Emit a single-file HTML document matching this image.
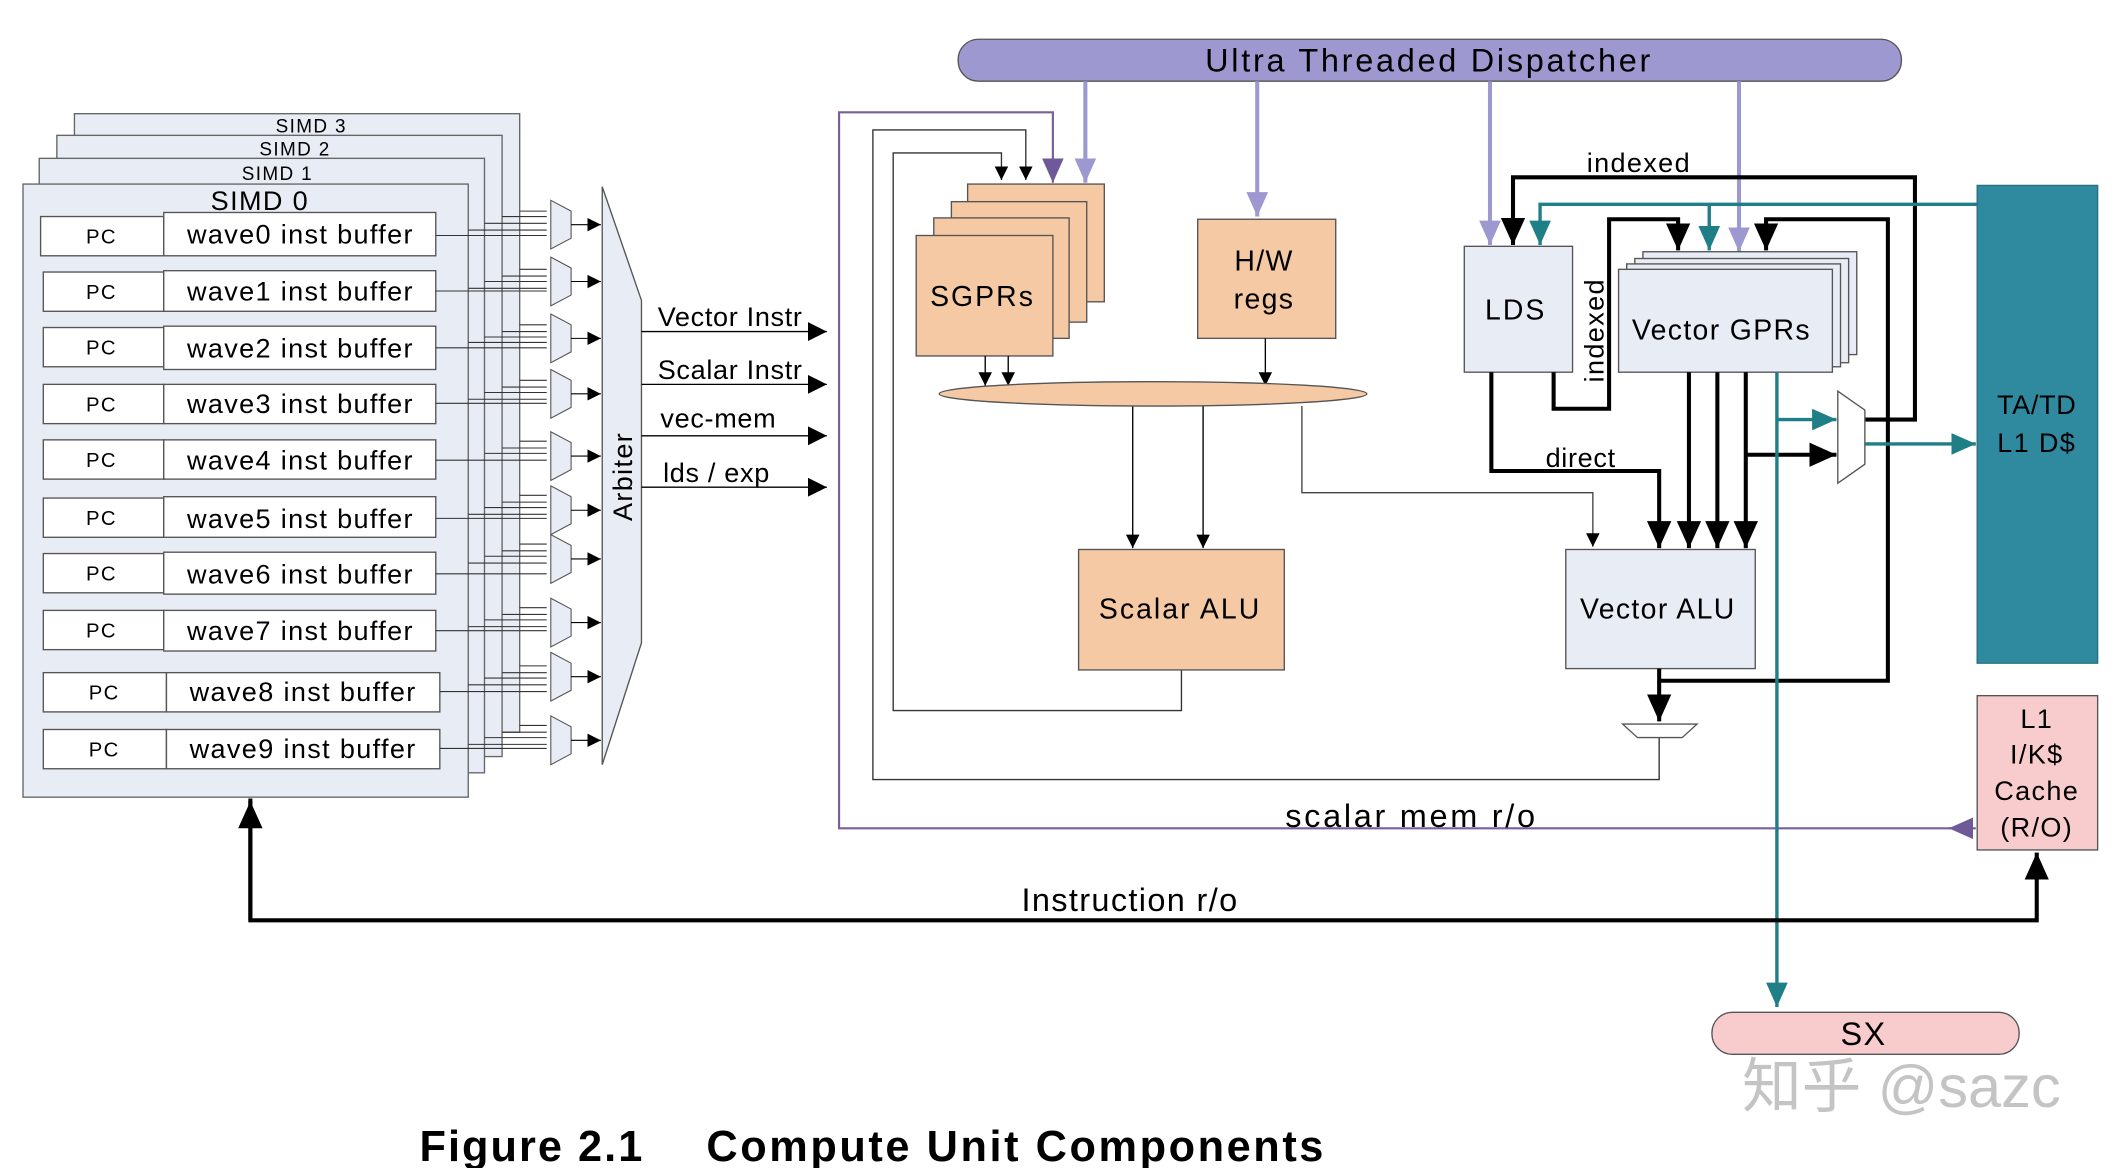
<!DOCTYPE html>
<html><head><meta charset="utf-8"><style>
html,body{margin:0;padding:0;background:#fff;}
svg{display:block;}
text{font-family:"Liberation Sans",sans-serif;fill:#000;}
</style></head><body>
<svg width="2122" height="1168" viewBox="0 0 1568 863" preserveAspectRatio="none" xmlns="http://www.w3.org/2000/svg">
<defs>
<marker id="ab" markerUnits="userSpaceOnUse" markerWidth="16" markerHeight="16" refX="14" refY="7" orient="auto"><path d="M0,0 L14,7 L0,14 Z" fill="#000"/></marker>
<marker id="as" markerUnits="userSpaceOnUse" markerWidth="12" markerHeight="12" refX="10" refY="5" orient="auto"><path d="M0,0 L10,5 L0,10 Z" fill="#000"/></marker>
<marker id="ap" markerUnits="userSpaceOnUse" markerWidth="20" markerHeight="20" refX="18" refY="8" orient="auto"><path d="M0,0 L18,8 L0,16 Z" fill="#9d98d0"/></marker>
<marker id="apd" markerUnits="userSpaceOnUse" markerWidth="20" markerHeight="20" refX="18" refY="8" orient="auto"><path d="M0,0 L18,8 L0,16 Z" fill="#6f5a99"/></marker>
<marker id="at" markerUnits="userSpaceOnUse" markerWidth="20" markerHeight="20" refX="18" refY="8" orient="auto"><path d="M0,0 L18,8 L0,16 Z" fill="#1f7f86"/></marker>
<marker id="aB" markerUnits="userSpaceOnUse" markerWidth="22" markerHeight="22" refX="20" refY="9" orient="auto"><path d="M0,0 L20,9 L0,18 Z" fill="#000"/></marker>
</defs>

<rect x="708" y="29" width="697" height="31" rx="15" fill="#9d98d0" stroke="#555" stroke-width="1"/>
<text x="1056" y="53" font-size="24" text-anchor="middle" letter-spacing="2">Ultra Threaded Dispatcher</text>

<rect x="55" y="84" width="329" height="457" fill="#e8ecf5" stroke="#666"/>
<rect x="42" y="100" width="329" height="459" fill="#e8ecf5" stroke="#666"/>
<rect x="29" y="117" width="329" height="454" fill="#e8ecf5" stroke="#666"/>
<rect x="17" y="136" width="329" height="453" fill="#e8ecf5" stroke="#666"/>
<text x="230" y="98" font-size="14" text-anchor="middle" letter-spacing="1">SIMD 3</text>
<text x="218" y="115" font-size="14" text-anchor="middle" letter-spacing="1">SIMD 2</text>
<text x="205" y="133" font-size="14" text-anchor="middle" letter-spacing="1">SIMD 1</text>
<text x="192" y="155" font-size="20" text-anchor="middle" letter-spacing="1">SIMD 0</text>

<g stroke="#555" stroke-width="1" fill="#fff">
<rect x="30" y="160" width="91" height="29"/><rect x="121" y="157" width="201" height="32"/>
<rect x="32" y="201" width="89" height="29"/><rect x="121" y="200" width="201" height="30"/>
<rect x="32" y="242" width="89" height="29"/><rect x="121" y="241" width="201" height="32"/>
<rect x="32" y="284" width="89" height="29"/><rect x="121" y="284" width="201" height="29"/>
<rect x="32" y="325" width="89" height="29"/><rect x="121" y="325" width="201" height="29"/>
<rect x="32" y="368" width="89" height="29"/><rect x="121" y="367" width="201" height="30"/>
<rect x="32" y="409" width="89" height="29"/><rect x="121" y="408" width="201" height="31"/>
<rect x="32" y="451" width="89" height="29"/><rect x="121" y="451" width="201" height="30"/>
<rect x="32" y="497" width="91" height="29"/><rect x="123" y="497" width="202" height="29"/>
<rect x="32" y="539" width="91" height="29"/><rect x="123" y="539" width="202" height="29"/>
</g>
<g font-size="15" text-anchor="middle" letter-spacing="1">
<text x="75" y="180">PC</text><text x="75" y="221">PC</text><text x="75" y="262">PC</text><text x="75" y="304">PC</text><text x="75" y="345">PC</text><text x="75" y="388">PC</text><text x="75" y="429">PC</text><text x="75" y="471">PC</text><text x="77" y="517">PC</text><text x="77" y="559">PC</text>
</g>
<g font-size="20" text-anchor="middle" letter-spacing="1">
<text x="222" y="180">wave0 inst buffer</text><text x="222" y="222">wave1 inst buffer</text><text x="222" y="264">wave2 inst buffer</text><text x="222" y="305">wave3 inst buffer</text><text x="222" y="347">wave4 inst buffer</text><text x="222" y="390">wave5 inst buffer</text><text x="222" y="431">wave6 inst buffer</text><text x="222" y="473">wave7 inst buffer</text><text x="224" y="518">wave8 inst buffer</text><text x="224" y="560">wave9 inst buffer</text>
</g>

<g stroke="#333" stroke-width="0.8" fill="none">
<path d="M322,174H404 M346,170H404 M358,165H404 M371,160H404 M384,156H404"/>
<path d="M322,215H404 M346,213H404 M358,208H404 M371,204H404 M384,199H404"/>
<path d="M322,257H404 M346,253H404 M358,249H404 M371,245H404 M384,240H404"/>
<path d="M322,298H404 M346,295H404 M358,290H404 M371,286H404 M384,281H404"/>
<path d="M322,340H404 M346,340H404 M358,335H404 M371,331H404 M384,326H404"/>
<path d="M322,383H404 M346,380H404 M358,375H404 M371,371H404 M384,366H404"/>
<path d="M322,424H404 M346,416H404 M358,411H404 M371,407H404 M384,402H404"/>
<path d="M322,466H404 M346,463H404 M358,458H404 M371,454H404 M384,449H404"/>
<path d="M325,511H404 M346,506H404 M358,501H404 M371,497H404 M384,492H404"/>
<path d="M325,553H404 M346,550H404 M358,545H404 M371,541H404 M384,536H404"/>
</g>
<g stroke="#555" stroke-width="0.8" fill="#e8ecf5">
<path d="M407,148 L422,156 L422,176 L407,184 Z"/>
<path d="M407,190 L422,198 L422,218 L407,226 Z"/>
<path d="M407,232 L422,240 L422,260 L407,268 Z"/>
<path d="M407,273 L422,281 L422,301 L407,309 Z"/>
<path d="M407,319 L422,327 L422,347 L407,355 Z"/>
<path d="M407,359 L422,367 L422,387 L407,395 Z"/>
<path d="M407,395 L422,403 L422,423 L407,431 Z"/>
<path d="M407,442 L422,450 L422,470 L407,478 Z"/>
<path d="M407,482 L422,490 L422,510 L407,518 Z"/>
<path d="M407,529 L422,537 L422,557 L407,565 Z"/>
</g>
<g stroke="#000" stroke-width="0.8" marker-end="url(#as)">
<path d="M422,166H444"/><path d="M422,208H444"/><path d="M422,250H444"/><path d="M422,291H444"/><path d="M422,337H444"/><path d="M422,377H444"/><path d="M422,413H444"/><path d="M422,460H444"/><path d="M422,500H444"/><path d="M422,547H444"/>
</g>
<path d="M445,138 L474,222 L474,475 L445,565 Z" fill="#e8ecf5" stroke="#555"/>
<text transform="translate(467,352) rotate(-90)" font-size="20" text-anchor="middle" letter-spacing="1">Arbiter</text>
<g stroke="#000" stroke-width="1" marker-end="url(#ab)">
<path d="M474,245H611"/><path d="M474,284H611"/><path d="M474,322H611"/><path d="M474,360H611"/>
</g>
<g font-size="20" letter-spacing="0.5">
<text x="486" y="241">Vector Instr</text><text x="486" y="280">Scalar Instr</text><text x="488" y="316">vec-mem</text><text x="490" y="356">lds / exp</text>
</g>

<path d="M1460,612 H620 V83 H778 V135" fill="none" stroke="#7a5f9a" stroke-width="1.6" marker-end="url(#apd)"/>
<path d="M1455,612 H1440" stroke="#7a5f9a" stroke-width="1.6" marker-end="url(#apd)"/>
<text x="1043" y="611" font-size="24" text-anchor="middle" letter-spacing="2">scalar mem r/o</text>

<path d="M1226,545 V576 H645 V96 H758 V133" fill="none" stroke="#333" stroke-width="1" marker-end="url(#as)"/>
<path d="M873,495 V525 H660 V113 H740 V133" fill="none" stroke="#333" stroke-width="1" marker-end="url(#as)"/>

<g stroke="#9d98d0" stroke-width="3" marker-end="url(#ap)">
<path d="M802,60V135"/><path d="M929,60V160"/><path d="M1101,60V181"/><path d="M1285,60V186"/>
</g>

<g fill="#f5c9a3" stroke="#555">
<rect x="715" y="136" width="101" height="87"/>
<rect x="703" y="149" width="100" height="89"/>
<rect x="690" y="161" width="100" height="89"/>
<rect x="677" y="174" width="101" height="89"/>
<rect x="885" y="162" width="102" height="88"/>
<rect x="797" y="406" width="152" height="89"/>
</g>
<text x="726" y="226" font-size="21" text-anchor="middle" letter-spacing="1.5">SGPRs</text>
<text x="934" y="200" font-size="21" text-anchor="middle" letter-spacing="1">H/W</text>
<text x="934" y="228" font-size="21" text-anchor="middle" letter-spacing="1">regs</text>
<text x="872" y="457" font-size="21" text-anchor="middle" letter-spacing="1.5">Scalar ALU</text>
<g stroke="#000" stroke-width="1" marker-end="url(#as)">
<path d="M728,263V285"/><path d="M745,263V285"/><path d="M935,250V285"/>
<path d="M837,300V405"/><path d="M889,300V405"/>
</g>
<ellipse cx="852" cy="291" rx="158" ry="9" fill="#f5c9a3" stroke="#555"/>
<path d="M962,300 V364 H1177 V404" fill="none" stroke="#444" stroke-width="1" marker-end="url(#as)"/>

<g fill="#e8ecf5" stroke="#555">
<rect x="1082" y="182" width="80" height="93"/>
<rect x="1214" y="186" width="158" height="76"/>
<rect x="1208" y="191" width="158" height="77"/>
<rect x="1202" y="195" width="158" height="76"/>
<rect x="1196" y="199" width="158" height="76"/>
<rect x="1157" y="406" width="140" height="88"/>
</g>
<text x="1120" y="236" font-size="21" text-anchor="middle" letter-spacing="1.5">LDS</text>
<text x="1272" y="251" font-size="21" text-anchor="middle" letter-spacing="1">Vector GPRs</text>
<text x="1225" y="457" font-size="21" text-anchor="middle" letter-spacing="1">Vector ALU</text>
<text transform="translate(1185,244) rotate(-90)" font-size="20" text-anchor="middle" letter-spacing="1">indexed</text>
<text x="1211" y="127" font-size="20" text-anchor="middle" letter-spacing="1">indexed</text>
<text x="1168" y="345" font-size="20" text-anchor="middle" letter-spacing="0.5">direct</text>

<g fill="none" stroke="#000" stroke-width="3" marker-end="url(#aB)">
<path d="M1378,310 H1415 V131 H1118 V181"/>
<path d="M1148,275 V302 H1189 V162 H1240 V185"/>
<path d="M1226,503 H1395 V162 H1305 V185"/>
<path d="M1102,275 V348 H1226 V405"/>
<path d="M1248,275V405"/><path d="M1269,275V405"/><path d="M1290,275V405"/>
<path d="M1290,336 H1357"/>
<path d="M1226,494 V533"/>
</g>
<g fill="none" stroke="#1f7f86" stroke-width="2.5" marker-end="url(#at)">
<path d="M1462,151 H1138 V181"/>
<path d="M1263,151 V185"/>
<path d="M1313,275 V744"/>
<path d="M1313,310 H1357"/>
<path d="M1378,328 H1460"/>
</g>
<path d="M1358,289 L1378,303 L1378,343 L1358,357 Z" fill="#fff" stroke="#555"/>
<path d="M1199,535 L1254,535 L1243,545 L1210,545 Z" fill="#fff" stroke="#555"/>

<rect x="1461" y="137" width="89" height="353" fill="#2f8aa0" stroke="#2a6f80"/>
<text x="1505" y="306" font-size="20" text-anchor="middle" letter-spacing="0.5">TA/TD</text>
<text x="1505" y="334" font-size="20" text-anchor="middle" letter-spacing="1">L1 D$</text>

<rect x="1461" y="514" width="89" height="114" fill="#f8cccc" stroke="#555"/>
<g font-size="20" text-anchor="middle" letter-spacing="1">
<text x="1505" y="538">L1</text><text x="1505" y="564">I/K$</text><text x="1505" y="591">Cache</text><text x="1505" y="618">(R/O)</text>
</g>

<path d="M185,590 V680 H1505 V630" fill="none" stroke="#000" stroke-width="3" marker-end="url(#aB)"/>
<path d="M185,680 V592" fill="none" stroke="#000" stroke-width="3" marker-end="url(#aB)"/>
<text x="835" y="673" font-size="24" text-anchor="middle" letter-spacing="1">Instruction r/o</text>

<rect x="1265" y="748" width="227" height="31" rx="15" fill="#f8cccc" stroke="#555"/>
<text x="1377" y="772" font-size="24" text-anchor="middle" letter-spacing="1">SX</text>

<text x="1405" y="818" font-size="44" text-anchor="middle" style="fill:#c4c4c4;font-family:'Liberation Sans','Noto Sans CJK SC',sans-serif;">知乎 @sazc</text>

<text x="310" y="858" font-size="32" font-weight="bold" letter-spacing="1.5">Figure 2.1</text>
<text x="522" y="858" font-size="32" font-weight="bold" letter-spacing="1.9">Compute Unit Components</text>
</svg>
</body></html>
